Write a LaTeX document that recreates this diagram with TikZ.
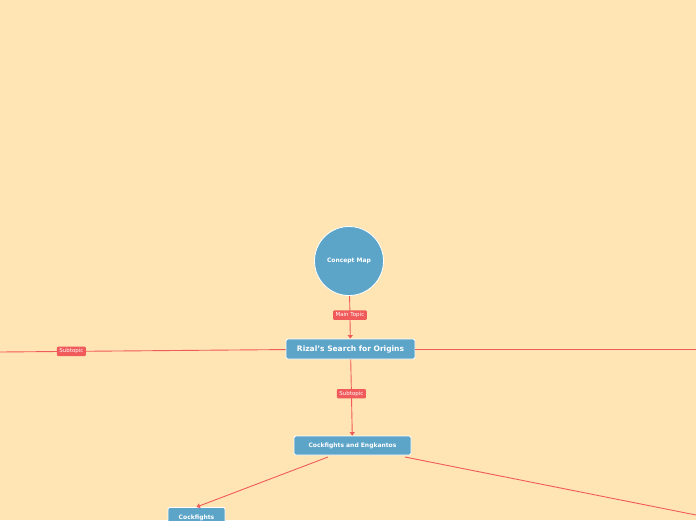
\documentclass[tikz,border=0pt]{standalone}
\usepackage{fontspec}
\setmainfont{DejaVu Sans}
\usetikzlibrary{arrows.meta}
\definecolor{bg}{HTML}{FFE5B4}
\definecolor{nodeb}{HTML}{5DA5C8}
\definecolor{edge}{HTML}{F05A5A}
\begin{document}
\begin{tikzpicture}[x=1pt,y=-1pt,
  topic/.style={draw=white,line width=0.8pt,fill=nodeb,rounded corners=2pt,text=white,font=\bfseries\fontsize{7.5}{9}\selectfont,inner sep=0pt},
  lab/.style={fill=edge,text=white,rounded corners=1pt,font=\fontsize{5.5}{6}\selectfont,inner xsep=2.5pt,inner ysep=2pt},
  conn/.style={draw=edge,line width=0.9pt},
  arr/.style={conn,-{Triangle[width=5pt,length=3.5pt]}}]
\fill[bg] (0,0) rectangle (696,520);
\useasboundingbox (0,0) rectangle (696,520);
\node[circle,draw=white,line width=0.8pt,fill=nodeb,minimum size=69pt,inner sep=0pt,text=white,font=\bfseries\fontsize{6}{7}\selectfont] (cm) at (349,261) {Concept Map};
\node[topic,minimum width=129pt,minimum height=20pt] (rz) at (350.5,349) {Rizal's Search for Origins};
\node[topic,minimum width=117pt,minimum height=19pt,font=\bfseries\fontsize{6}{7}\selectfont] (ce) at (352.5,445.5) {Cockfights and Engkantos};
\node[topic,minimum width=57pt,minimum height=20pt,font=\bfseries\fontsize{6}{7}\selectfont,anchor=north] (cf) at (196.5,507) {Cockfights};
\coordinate (L) at (0,352);
\coordinate (R) at (696,349);
\coordinate (LR) at (696,515);
\draw[arr] (cm) -- (rz) node[lab,pos=0.45] {Main Topic};
\draw[arr] (rz) -- (ce) node[lab,pos=0.45] {Subtopic};
\draw[conn] (rz) -- (L) node[lab,pos=0.75] {Subtopic};
\draw[conn] (rz) -- (R);
\draw[arr] (328,457) -- (cf.north);
\draw[conn] (405,457) -- (LR);
\end{tikzpicture}
\end{document}
